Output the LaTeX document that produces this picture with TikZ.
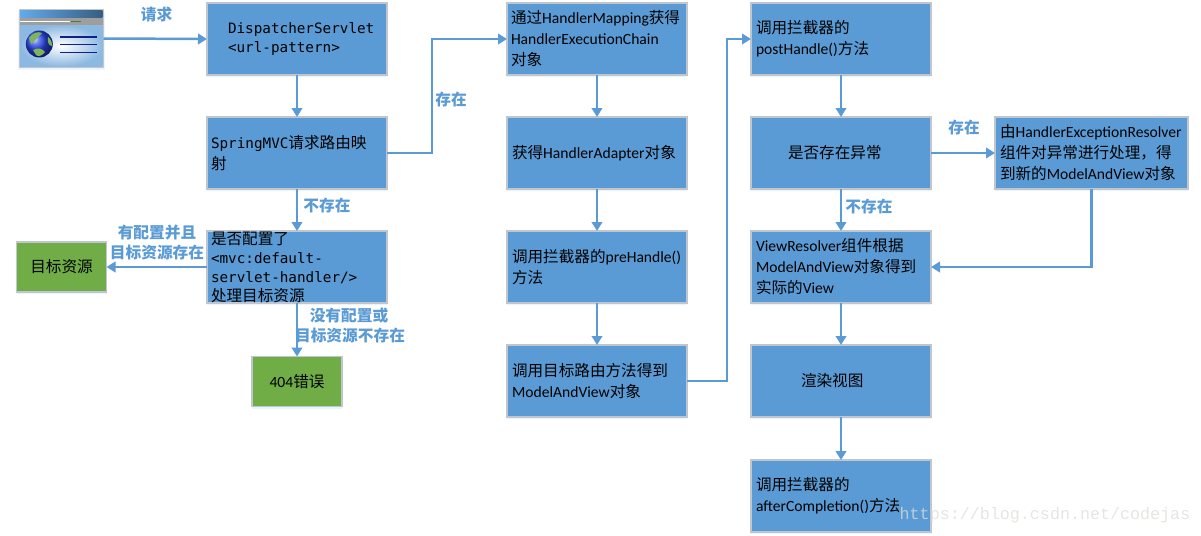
\documentclass[tikz,border=0pt]{standalone}
\usepackage{fontspec}
\setmainfont{Carlito}
\setmonofont{DejaVu Sans Mono}
\newfontfamily\cjk{Noto Sans CJK SC}
\newfontfamily\wmfont{Liberation Mono}
\newcommand\zh[1]{{\cjk #1}}
\newcommand\mo[1]{{\ttfamily\fontsize{14.3}{20}\selectfont #1}}
\usetikzlibrary{arrows.meta,shadows}
\definecolor{flowblue}{HTML}{5B9BD5}
\definecolor{flowgreen}{HTML}{70AD47}
\definecolor{edgegrey}{HTML}{BFC6CF}
\definecolor{wmgrey}{HTML}{DCDCD8}
\tikzset{
  x=1pt,y=-1pt,
  flowbox/.style={draw=edgegrey,line width=1.2pt,inner ysep=0pt,outer sep=0pt,
    minimum width=180pt,minimum height=72pt,align=left,text=black,
    font=\fontsize{15.6}{21}\selectfont,
    drop shadow={shadow xshift=0pt,shadow yshift=-2pt,opacity=.12,fill=flowblue}},
  bluebox/.style={flowbox,fill=flowblue},
  greenbox/.style={flowbox,fill=flowgreen,minimum width=90pt,minimum height=50pt,align=center},
  flowarrow/.style={draw=flowblue,line width=2.5pt,-{Triangle[length=9pt,width=10.5pt]}},
  flowlabel/.style={text=flowblue,inner sep=0pt,font=\fontsize{15.7}{20}\selectfont\bfseries\cjk}
}
\begin{document}
\begin{tikzpicture}
\useasboundingbox (0,0) rectangle (1201,535);
% browser icon
\fill[flowblue!10] (18,12) rectangle (105,70);
\node[draw=edgegrey,line width=1pt,minimum width=84pt,minimum height=57pt,inner sep=0pt,outer sep=0pt] (icon) at (61.5,38.5) {};
\shade[inner color=white,outer color=flowblue!70] (20,25) rectangle (102.5,66.5);
\shade[left color=flowblue!110!black,right color=flowblue!60!black] (20,11) rectangle (102.5,18);
\fill[black!38] (20,18) rectangle (102.5,25);
\fill[white] (20,20.8) rectangle (70,22);
\fill[flowgreen!70!black] (71,20.8) rectangle (80.5,22);
\shade[ball color=blue!55!flowblue] (39.3,44) circle (13.5);
\fill[flowgreen!90!white] (29,38) .. controls (32,33) and (38,31) .. (42,33) .. controls (38,37) and (34,42) .. (31,44) -- cycle;
\fill[flowgreen!90!white] (33,50) .. controls (38,47) and (43,49) .. (45,52) .. controls (42,56) and (38,57) .. (36,55) -- cycle;
\fill[flowgreen!90!white] (48,37) .. controls (51,39) and (52,42) .. (52,46) .. controls (49,46) and (47,42) .. (48,37) -- cycle;
\fill[blue!45!black!80!flowblue] (60,36.2) rectangle (97,38);
\fill[blue!45!black!80!flowblue] (60,44) rectangle (97,45);
\fill[blue!45!black!80!flowblue] (60,52) rectangle (97,53);
\draw[edgegrey,line width=1pt] (icon.south west) rectangle (icon.north east);
% column 1
\node[bluebox,inner xsep=21pt,text width=138pt] (disp) at (297,39) {\mo{DispatcherServlet}\\[-2.5pt]\mo{<url-pattern>}};
\node[bluebox,inner xsep=4pt,text width=172pt] (route) at (297,153) {\mo{SpringMVC}\zh{请求路由映}\\\zh{射}};
\node[bluebox,inner xsep=4pt,text width=172pt,font=\fontsize{15.6}{19}\selectfont] (cfg) at (297,267) {\zh{是否配置了}\\\mo{<mvc:default-}\\\mo{servlet-handler/>}\\\zh{处理目标资源}};
\node[greenbox] (target) at (61.5,267) {\zh{目标资源}};
\node[greenbox] (err) at (297,381.5) {404\zh{错误}};
% column 2
\node[bluebox,inner xsep=4pt,text width=172pt] (mapping) at (597,39) {\zh{通过}HandlerMapping\zh{获得}\\HandlerExecutionChain\\\zh{对象}};
\node[bluebox,inner xsep=5pt,text width=170pt] (adapter) at (597,153) {\zh{获得}HandlerAdapter\zh{对象}};
\node[bluebox,inner xsep=5pt,text width=170pt] (pre) at (597,267) {\zh{调用拦截器的}preHandle()\\\zh{方法}};
\node[bluebox,inner xsep=5pt,text width=170pt] (mav) at (597,381) {\zh{调用目标路由方法得到}\\ModelAndView\zh{对象}};
% column 3
\node[bluebox,inner xsep=5pt,text width=170pt] (post) at (841,39) {\zh{调用拦截器的}\\postHandle()\zh{方法}};
\node[bluebox,inner xsep=37pt,text width=106pt] (exq) at (841,153) {\zh{是否存在异常}};
\node[bluebox,inner xsep=5pt,text width=170pt] (vr) at (841,267) {ViewResolver\zh{组件根据}\\ModelAndView\zh{对象得到}\\\zh{实际的}View};
\node[bluebox,inner xsep=50pt,text width=80pt] (render) at (841,381) {\zh{渲染视图}};
\node[bluebox,inner xsep=5pt,text width=170pt] (after) at (841,496) {\zh{调用拦截器的}\\afterCompletion()\zh{方法}};
\node[bluebox,minimum width=193pt,inner xsep=5pt,text width=183pt] (exh) at (1091.5,153) {\zh{由}HandlerExceptionResolver\\\zh{组件对异常进行处理，得}\\\zh{到新的}ModelAndView\zh{对象}};
% connectors
\coordinate (bend1) at (432,39);
\coordinate (bend2) at (727,39);
\draw[flowarrow] (icon.east) -- (disp.west);
\draw[flowarrow] (disp.south) -- (route.north);
\draw[flowarrow] (route.south) -- (cfg.north);
\draw[flowarrow] (cfg.west) -- (target.east);
\draw[flowarrow] (cfg.south) -- (err.north);
\draw[flowarrow] (route.east) -| (bend1) -- (mapping.west);
\draw[flowarrow] (mapping.south) -- (adapter.north);
\draw[flowarrow] (adapter.south) -- (pre.north);
\draw[flowarrow] (pre.south) -- (mav.north);
\draw[flowarrow] (mav.east) -| (bend2) -- (post.west);
\draw[flowarrow] (post.south) -- (exq.north);
\draw[flowarrow] (exq.south) -- (vr.north);
\draw[flowarrow] (vr.south) -- (render.north);
\draw[flowarrow] (render.south) -- (after.north);
\draw[flowarrow] (exq.east) -- (exh.west);
\draw[flowarrow] (exh.south) |- (vr.east);
% labels
\node[flowlabel] (l1) at (156.5,14) {请求};
\node[flowlabel] (l2) at (451,100) {存在};
\node[flowlabel] (l3) at (327,206) {不存在};
\node[flowlabel] (l4) at (157,233) {有配置并且};
\node[flowlabel] (l5) at (157,253) {目标资源存在};
\node[flowlabel] (l6) at (349,316) {没有配置或};
\node[flowlabel] (l7) at (350,336) {目标资源不存在};
\node[flowlabel] (l8) at (964,128) {存在};
\node[flowlabel] (l9) at (869,207) {不存在};
% watermark
\node[inner sep=0pt,text=wmgrey,opacity=.75,font=\wmfont\fontsize{16.7}{20}\selectfont] (wm) at (1045,515) {https://blog.csdn.net/codejas};
\end{tikzpicture}
\end{document}
